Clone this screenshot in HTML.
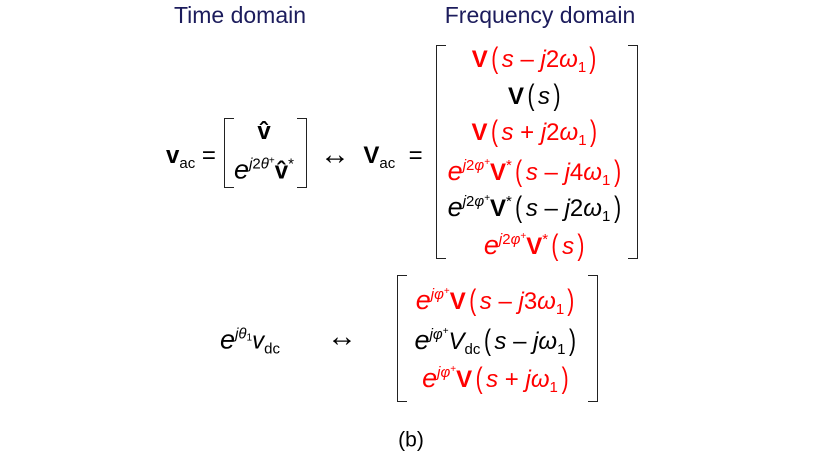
<!DOCTYPE html>
<html><head><meta charset="utf-8"><style>
body{margin:0;background:#fff}
#c{position:relative;width:830px;height:467px;overflow:hidden;font-family:"Liberation Sans","DejaVu Sans",sans-serif;font-size:24px;color:#000}
.r{position:absolute;white-space:nowrap;transform:translate(-50%,-50%);line-height:1}
.red{color:#f00}
i{font-style:italic}
b{font-weight:bold}
.e{font-size:27px}
sup{font-size:15px;vertical-align:0;position:relative;top:-10px}
sup sup{font-size:10px;top:-5px}
sub{font-size:15px;vertical-align:0;position:relative;top:5px}
.p{font-size:30px;font-weight:normal;display:inline-block;transform:scaleX(.7);position:relative;top:1px;margin:0 2px}
.bl,.br{position:absolute;border:1.5px solid #222}
.bl{border-right:none;width:9px}
.br{border-left:none;width:9px}
.h{position:absolute;font-size:23px;color:#1c1c5c;transform:translateX(-50%);white-space:nowrap}
.ar{font-size:30px}
</style></head><body><div id="c">
<div class="h" style="left:240px;top:2px">Time domain</div>
<div class="h" style="left:540px;top:2px">Frequency domain</div>

<div class="r" style="left:191px;top:156px"><b>v</b><sub>ac</sub> =</div>
<div class="bl" style="left:224px;top:118px;height:68px"></div>
<div class="br" style="left:297px;top:118px;height:68px"></div>
<div class="r" style="left:264px;top:132px"><b>v̂</b></div>
<div class="r" style="left:264px;top:170px"><i class="e">e</i><sup><i>j</i>2<i>θ</i><sup>+</sup></sup><b>v̂</b><sup>*</sup></div>
<div class="r ar" style="left:335px;top:155px">↔</div>
<div class="r" style="left:393px;top:156px"><b>V</b><sub>ac</sub> &nbsp;=</div>

<div class="bl" style="left:436px;top:45px;height:212px"></div>
<div class="br" style="left:628px;top:45px;height:212px"></div>
<div class="r red" style="left:536px;top:58px"><b>V</b><span class="p">(</span><i>s</i> – <i>j</i>2<i>ω</i><sub>1</sub><span class="p">)</span></div>
<div class="r" style="left:536px;top:95px"><b>V</b><span class="p">(</span><i>s</i><span class="p">)</span></div>
<div class="r red" style="left:536px;top:131px"><b>V</b><span class="p">(</span><i>s</i> + <i>j</i>2<i>ω</i><sub>1</sub><span class="p">)</span></div>
<div class="r red" style="left:536px;top:171px"><i class="e">e</i><sup><i>j</i>2<i>φ</i><sup>+</sup></sup><b>V</b><sup>*</sup><span class="p">(</span><i>s</i> – <i>j</i>4<i>ω</i><sub>1</sub><span class="p">)</span></div>
<div class="r" style="left:536px;top:207px"><i class="e">e</i><sup><i>j</i>2<i>φ</i><sup>+</sup></sup><b>V</b><sup>*</sup><span class="p">(</span><i>s</i> – <i>j</i>2<i>ω</i><sub>1</sub><span class="p">)</span></div>
<div class="r red" style="left:536px;top:245px"><i class="e">e</i><sup><i>j</i>2<i>φ</i><sup>+</sup></sup><b>V</b><sup>*</sup><span class="p">(</span><i>s</i><span class="p">)</span></div>

<div class="r" style="left:250px;top:340px"><i class="e">e</i><sup><i>jθ</i><sub style="font-size:10px;top:2px">1</sub></sup><i>v</i><sub>dc</sub></div>
<div class="r ar" style="left:342px;top:337px">↔</div>
<div class="bl" style="left:397px;top:275px;height:125px"></div>
<div class="br" style="left:588px;top:275px;height:125px"></div>
<div class="r red" style="left:497px;top:300px"><i class="e">e</i><sup><i>jφ</i><sup>+</sup></sup><b>V</b><span class="p">(</span><i>s</i> – <i>j</i>3<i>ω</i><sub>1</sub><span class="p">)</span></div>
<div class="r" style="left:497px;top:340px"><i class="e">e</i><sup><i>jφ</i><sup>+</sup></sup><i>V</i><sub>dc</sub><span class="p">(</span><i>s</i> – <i>jω</i><sub>1</sub><span class="p">)</span></div>
<div class="r red" style="left:497px;top:378px"><i class="e">e</i><sup><i>jφ</i><sup>+</sup></sup><b>V</b><span class="p">(</span><i>s</i> + <i>jω</i><sub>1</sub><span class="p">)</span></div>

<div class="r" style="left:411px;top:440px;font-size:21px">(b)</div>
</div></body></html>
